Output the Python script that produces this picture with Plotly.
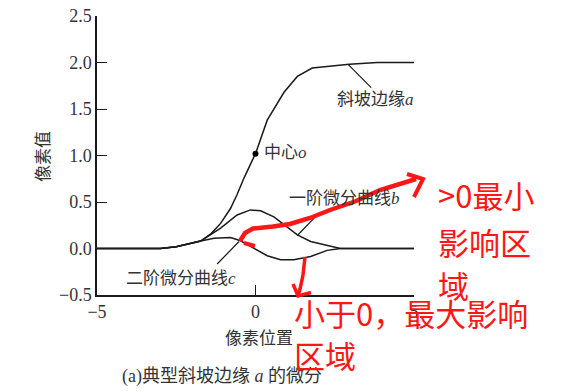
import plotly.graph_objects as go

# ---- data ----
x_a = [-5, -3.0, -2.5, -2.15, -1.73, -1.4, -1.1, -0.79, -0.58, -0.36, 0, 0.37, 0.9, 1.32, 1.79, 2.96, 3.84, 5.0]
y_a = [0, 0, 0.02, 0.05, 0.08, 0.16, 0.27, 0.43, 0.58, 0.76, 1.02, 1.38, 1.68, 1.85, 1.94, 1.98, 2.0, 2.0]

x_b = [-5, -3.0, -2.5, -2.15, -1.73, -1.10, -0.58, -0.16, 0.16, 0.58, 1.0, 1.32, 1.74, 2.26, 2.68, 5.0]
y_b = [0, 0, 0.02, 0.05, 0.08, 0.22, 0.36, 0.415, 0.405, 0.34, 0.236, 0.147, 0.075, 0.032, 0.0, 0.0]

x_c = [-5, -3.0, -2.5, -2.15, -1.73, -1.31, -0.79, -0.47, -0.05, 0.37, 0.79, 1.21, 1.74, 2.26, 2.68, 5.0]
y_c = [0, 0, 0.02, 0.05, 0.08, 0.11, 0.118, 0.083, 0.004, -0.078, -0.12, -0.12, -0.086, -0.02, 0.0, 0.0]

center_x = [0]
center_y = [1.02]

x_ticks = [-5, 0, 5]
y_ticks = [-0.5, 0.0, 0.5, 1.0, 1.5, 2.0, 2.5]

# ---- layout helpers ----
OFF = 8  # default page (body) margin
W, H = 566 - OFF, 392 - OFF
PL, PT, PR, PB = 97, 16, 414, 295          # plot area in page pixels
ML, MT = PL - OFF, PT - OFF
PW, PH = PR - PL, PB - PT
MR, MB = W - ML - PW, H - MT - PH


def P(px, py):
    """page pixel position -> paper coordinates"""
    return (px - PL) / PW, (PB - py) / PH


def path(points):
    parts = []
    for i, (px, py) in enumerate(points):
        x, y = P(px, py)
        parts.append(("M" if i == 0 else "L") + f"{x:.4f},{y:.4f}")
    return " ".join(parts)


LINE = "#1a1a1a"
TXT = "#333333"
RED = "#ff1616"
SERIF = "Liberation Serif, Noto Sans CJK SC, serif"
CJK = "Noto Sans CJK SC, sans-serif"

fig = go.Figure()
for xs, ys in [(x_a, y_a), (x_b, y_b), (x_c, y_c)]:
    fig.add_trace(go.Scatter(x=xs, y=ys, mode="lines",
                             line=dict(color=LINE, width=1.5),
                             showlegend=False, hoverinfo="skip"))
fig.add_trace(go.Scatter(x=center_x, y=center_y, mode="markers",
                         marker=dict(color="black", size=6),
                         showlegend=False, hoverinfo="skip"))

shapes = []
# black leader lines (data coords)
for (x0, y0, x1, y1) in [(2.92, 1.98, 3.65, 1.73),
                         (1.32, 0.14, 2.0, 0.38),
                         (-1.21, -0.167, -0.52, 0.075)]:
    shapes.append(dict(type="line", xref="x", yref="y", x0=x0, y0=y0, x1=x1, y1=y1,
                       line=dict(color=LINE, width=1.2)))

# red hand-drawn arrows (paper coords)
shapes.append(dict(type="path", xref="paper", yref="paper",
                   path=path([(240, 241), (245, 233), (253, 228.5), (273, 226.5), (290, 224),
                              (310, 218), (330, 210), (355, 201.5), (380, 190), (416, 179)]),
                   line=dict(color=RED, width=4.5)))
shapes.append(dict(type="path", xref="paper", yref="paper",
                   path=path([(407, 174), (423, 179), (414, 197)]),
                   line=dict(color=RED, width=4)))
shapes.append(dict(type="path", xref="paper", yref="paper",
                   path=path([(244, 243), (255, 246)]),
                   line=dict(color=RED, width=4)))
shapes.append(dict(type="path", xref="paper", yref="paper",
                   path=path([(305, 257), (303, 275), (300, 289), (298, 296)]),
                   line=dict(color=RED, width=3.5)))
shapes.append(dict(type="path", xref="paper", yref="paper",
                   path=path([(293, 284), (298, 296), (311, 292.5)]),
                   line=dict(color=RED, width=3.5)))

annotations = []


def ann_px(text, px, py, size, color, family, xanchor="center", angle=0):
    x, y = P(px, py)
    annotations.append(dict(text=text, x=x, y=y, xref="paper", yref="paper",
                            xanchor=xanchor, yanchor="middle", showarrow=False,
                            textangle=angle, font=dict(size=size, color=color, family=family)))


def ann_data(text, x, y, xanchor):
    annotations.append(dict(text=text, x=x, y=y, xref="x", yref="y",
                            xanchor=xanchor, yanchor="middle", showarrow=False,
                            font=dict(size=17, color=TXT, family=SERIF)))


ann_data("斜坡边缘<i>a</i>", 3.78, 1.6, "center")
ann_data("中心<i>o</i>", 0.22, 1.03, "left")
ann_data("一阶微分曲线<i>b</i>", 0.98, 0.54, "left")
ann_data("二阶微分曲线<i>c</i>", -0.56, -0.325, "right")

ann_px("像素位置", 259, 338, 17, TXT, SERIF)
ann_px("像素值", 43, 157, 17, TXT, SERIF, angle=-90)
ann_px("(a)典型斜坡边缘 <i>a</i> 的微分", 222, 376, 18, TXT, SERIF)

ann_px(">0最小", 436, 194, 31, RED, CJK, xanchor="left")
ann_px("影响区", 436, 241, 31, RED, CJK, xanchor="left")
ann_px("域", 436, 284, 31, RED, CJK, xanchor="left")
ann_px("小于0，最大影响", 292, 312, 31, RED, CJK, xanchor="left")
ann_px("区域", 292, 354, 31, RED, CJK, xanchor="left")

fig.update_layout(
    width=W, height=H,
    margin=dict(l=ML, r=MR, t=MT, b=MB, autoexpand=False),
    paper_bgcolor="white", plot_bgcolor="white",
    shapes=shapes, annotations=annotations,
    xaxis=dict(range=[-5, 5], tickvals=x_ticks, ticks="inside", ticklen=10, tickwidth=1.3,
               tickcolor=LINE, showline=True, linecolor=LINE, linewidth=1.5, mirror=False,
               showgrid=False, zeroline=False, ticklabeloverflow="allow", automargin=False,
               tickfont=dict(size=18, color=TXT, family=SERIF)),
    yaxis=dict(range=[-0.5, 2.5], tickvals=y_ticks, tickformat=".1f", ticks="inside", ticklen=10,
               tickwidth=1.3, tickcolor=LINE, showline=True, linecolor=LINE, linewidth=1.5,
               mirror=False, showgrid=False, zeroline=False, ticklabeloverflow="allow",
               automargin=False, tickfont=dict(size=18, color=TXT, family=SERIF)),
)

fig.write_html("out.html")
